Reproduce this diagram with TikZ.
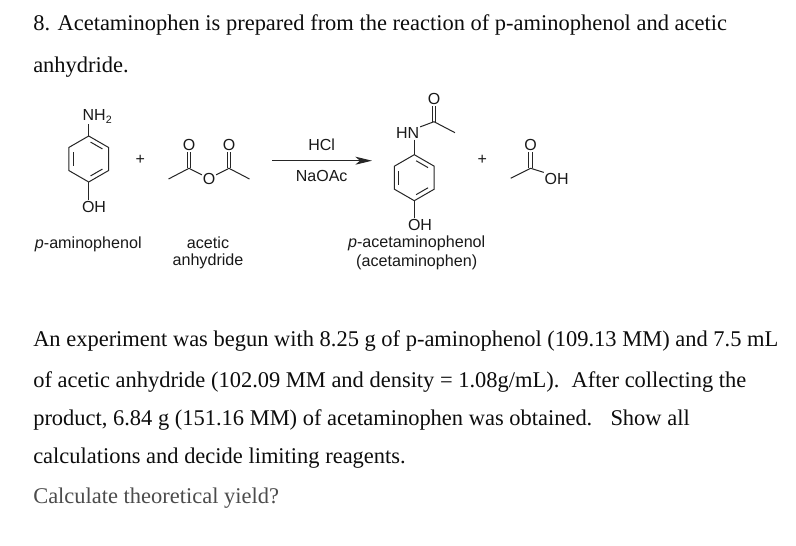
\documentclass[tikz,border=0pt]{standalone}
\usepackage{fontspec}
\setmainfont{Liberation Serif}
\newfontfamily\chemfont{Liberation Sans}
\usetikzlibrary{calc,arrows.meta}
\tikzset{
	bond/.style={line width=0.75pt, color=black!85},
	atom/.style={font=\chemfont\fontsize{12}{14}\selectfont, color=black!90, inner sep=0.5pt},
	caption/.style={font=\chemfont\fontsize{12.1}{14}\selectfont, color=black!90, inner sep=0pt},
	para/.style={font=\fontsize{16.85}{20}\selectfont, color=black!95, anchor=base west, inner sep=0pt}
}
% ring of six with its three inner bonds, vertices #1-1 (top) to #1-6
\def\benzring(#1)(#2,#3){
	\foreach \i in {1,...,6} {
		\coordinate (#1-\i) at ({#2+23*sin(60*(\i-1))},{#3-23*cos(60*(\i-1))});
		\coordinate (#1-in\i) at ({#2+18*sin(60*(\i-1))},{#3-18*cos(60*(\i-1))});
	}
	\draw[bond] (#1-1) -- (#1-2) -- (#1-3) -- (#1-4) -- (#1-5) -- (#1-6) -- cycle;
	\draw[bond] ($(#1-in1)!0.12!(#1-in2)$) -- ($(#1-in2)!0.12!(#1-in1)$);
	\draw[bond] ($(#1-in3)!0.12!(#1-in4)$) -- ($(#1-in4)!0.12!(#1-in3)$);
	\draw[bond] ($(#1-in5)!0.12!(#1-in6)$) -- ($(#1-in6)!0.12!(#1-in5)$);
}
% double bond to an oxygen standing straight above the carbon
\def\carbonyl(#1)(#2){
	\draw[bond] ($(#1)+(-1.8,0)$) -- ($(#2.south)+(-1.8,0)$);
	\draw[bond] ($(#1)+(1.8,0)$) -- ($(#2.south)+(1.8,0)$);
}

\begin{document}
\begin{tikzpicture}[x=0.75pt,y=-0.75pt]
	\useasboundingbox (0,0) rectangle (796,546);
	\fill[white] (0,0) rectangle (796,546);
	
	%%%%% TEXT %%%%%
	\node[para] (line1) at (33,31) {8. Acetaminophen is prepared from the reaction of p-aminophenol and acetic};
	\node[para] (line2) at (33,72) {anhydride.};
	\node[para] (line3) at (33,346) {An experiment was begun with 8.25 g of p-aminophenol (109.13 MM) and 7.5 mL};
	\node[para] (line4) at (33,387) {of acetic anhydride (102.09 MM and density = 1.08g/mL).\hspace{5pt} After collecting the};
	\node[para] (line5) at (33,425) {product, 6.84 g (151.16 MM) of acetaminophen was obtained.\hspace{8pt} Show all};
	\node[para] (line6) at (33,463) {calculations and decide limiting reagents.};
	\node[para, color=black!70] (line7) at (33,503) {Calculate theoretical yield?};
	
	%%%%% p-aminophenol %%%%%
	\benzring(ra)(88.7,159)
	\node[atom] (nh2) at (97.5,116.5) {NH\textsubscript{2}};
	\node[atom] (oha) at (94,207) {OH};
	\draw[bond] (nh2.south -| ra-1) -- (ra-1);
	\draw[bond] (ra-4) -- (oha.north -| ra-4);
	\node[caption] (capa) at (88.3,244) {\textit{p}-aminophenol};
	
	\node[atom] (plusa) at (140.3,160) {+};
	
	%%%%% acetic anhydride %%%%%
	\coordinate (ca) at (189,168.3);
	\coordinate (cb) at (229,168.3);
	\coordinate (mea) at (168.5,179);
	\coordinate (meb) at (249.5,179);
	\node[atom] (oa) at (189,145) {O};
	\node[atom] (ob) at (229,145) {O};
	\node[atom] (ox) at (209,178.5) {O};
	\draw[bond] (mea) -- (ca) -- (ox);
	\draw[bond] (ox) -- (cb) -- (meb);
	\carbonyl(ca)(oa)
	\carbonyl(cb)(ob)
	\node[caption] (capb) at (208,242.5) {acetic};
	\node[caption] (capc) at (208,261) {anhydride};
	
	%%%%% arrow %%%%%
	\coordinate (arrstart) at (272,160.7);
	\coordinate (arrend) at (372,160.7);
	\draw[bond, -{Stealth[length=12.5pt,width=6pt,inset=3.5pt]}] (arrstart) -- (arrend);
	\node[atom] (hcl) at (321.7,145) {HCl};
	\node[atom] (naoac) at (321.7,175.7) {NaOAc};
	
	%%%%% p-acetaminophenol %%%%%
	\benzring(rb)(414.3,177.7)
	\node[atom] (hn) at (407.7,133.3) {HN};
	\node[atom] (ohb) at (420,225) {OH};
	\coordinate (cc) at (434,121.7);
	\coordinate (mec) at (455,132.7);
	\node[atom] (oc) at (434,99.3) {O};
	\draw[bond] (hn.south -| rb-1) -- (rb-1);
	\draw[bond] (rb-4) -- (ohb.north -| rb-4);
	\draw[bond] (hn.north east) -- (cc) -- (mec);
	\carbonyl(cc)(oc)
	\node[caption] (capd) at (416.7,243.5) {\textit{p}-acetaminophenol};
	\node[caption] (cape) at (416.7,262) {(acetaminophen)};
	
	\node[atom] (plusb) at (482.3,160) {+};
	
	%%%%% acetic acid %%%%%
	\coordinate (cd) at (530.7,168.3);
	\coordinate (med) at (510.7,178.3);
	\node[atom] (od) at (530.7,145) {O};
	\node[atom] (ohd) at (556.7,179) {OH};
	\draw[bond] (med) -- (cd) -- (ohd.north west);
	\carbonyl(cd)(od)
\end{tikzpicture}
\end{document}
